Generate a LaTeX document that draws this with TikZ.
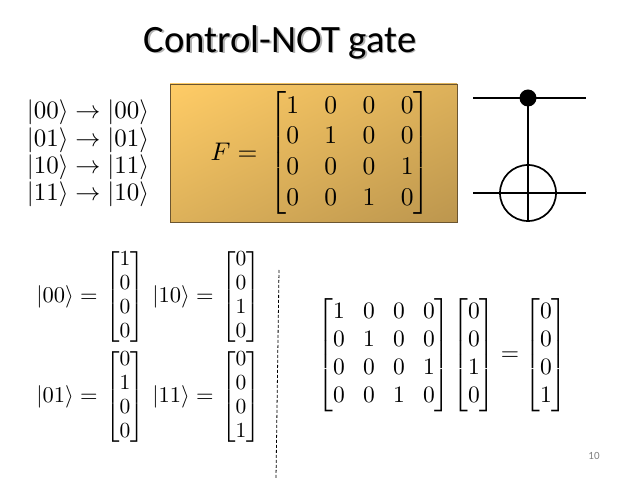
\documentclass[tikz,border=0pt]{standalone}
\usepackage{amsmath}
\usepackage{fontspec}
\setmainfont{Carlito}
\usetikzlibrary{shadings}
\newcommand{\colvec}[4]{$\begin{bmatrix}#1\\#2\\#3\\#4\end{bmatrix}$}
\newcommand{\cnotmat}{$\begin{bmatrix}1&0&0&0\\0&1&0&0\\0&0&0&1\\0&0&1&0\end{bmatrix}$}
\definecolor{boxtl}{HTML}{FFCC66}
\definecolor{boxbr}{HTML}{BC964E}
\definecolor{boxmid}{HTML}{DDB15A}
\definecolor{boxedge}{HTML}{6B5530}
\tikzset{
  wire/.style={line width=1.7pt,black},
  vecnode/.style={inner sep=0pt,scale=2.15,execute at begin node={\renewcommand\arraystretch{0.93}}},
  ketnode/.style={inner sep=0pt,scale=2.25},
  mapnode/.style={inner sep=0pt,scale=2.5},
  matnode/.style={inner sep=0pt,scale=2.55},
  prodnode/.style={inner sep=0pt,scale=2.35}
}
\begin{document}
\begin{tikzpicture}[x=1pt,y=-1pt]

  \useasboundingbox (0,0) rectangle (638,478);

  % title with its shadow
  \node[gray!60,font=\fontsize{38.7}{44}\selectfont] (titleshadow) at (281.5,43.5) {Control-NOT gate};
  \node[font=\fontsize{38.7}{44}\selectfont] (title) at (280,42) {Control-NOT gate};

  % mapping on the left
  \node[mapnode] (mapa) at (88,112) {$|00\rangle\rightarrow|00\rangle$};
  \node[mapnode] (mapb) at (88,140) {$|01\rangle\rightarrow|01\rangle$};
  \node[mapnode] (mapc) at (88,167) {$|10\rangle\rightarrow|11\rangle$};
  \node[mapnode] (mapd) at (88,194) {$|11\rangle\rightarrow|10\rangle$};

  % shaded box
  \shade[draw=boxedge,thick,upper left=boxtl,lower right=boxbr,
         upper right=boxmid,lower left=boxmid] (170,84) rectangle (457,222);
  \node[matnode] (feq) at (234,152) {$F=$};
  \node[matnode] (fmat) at (350,153) {\cnotmat};

  % circuit
  \coordinate (cl) at (473,98);
  \coordinate (cr) at (586,98);
  \coordinate (tl) at (473,193);
  \coordinate (tr) at (586,193);
  \coordinate (cdown) at (528,221);
  \node[circle,fill=black,minimum size=17pt,inner sep=0pt] (ctrl) at (528,98) {};
  \node[circle,draw=black,line width=1.7pt,minimum size=56pt,inner sep=0pt] (targ) at (528,193) {};
  \draw[wire] (cl) -- (cr);
  \draw[wire] (tl) -- (tr);
  \draw[wire] (ctrl.center) -- (cdown);

  % basis vectors
  \node[ketnode] (keta) at (67,297) {$|00\rangle=$};
  \node[vecnode] (veca) at (125,297) {\colvec1000};
  \node[ketnode] (ketc) at (183,297) {$|10\rangle=$};
  \node[vecnode] (vecc) at (241,297) {\colvec0010};
  \node[ketnode] (ketb) at (67,397) {$|01\rangle=$};
  \node[vecnode] (vecb) at (125,397) {\colvec0100};
  \node[ketnode] (ketd) at (183,397) {$|11\rangle=$};
  \node[vecnode] (vecd) at (241,397) {\colvec0001};

  % divider
  \coordinate (diva) at (279,270);
  \coordinate (divb) at (276,478);
  \draw[densely dashed,line width=0.8pt,black] (diva) -- (divb);

  % product
  \node[prodnode] (pmat) at (384,355) {\setlength\arraycolsep{3.9pt}\cnotmat};
  \node[prodnode] (pvec) at (474,355) {\colvec0010};
  \node[prodnode] (peq) at (510,356) {$=$};
  \node[prodnode] (pres) at (546,355) {\colvec0001};

  \node[gray,font=\fontsize{11}{12}\selectfont] (pagenum) at (594,456) {10};

\end{tikzpicture}
\end{document}
